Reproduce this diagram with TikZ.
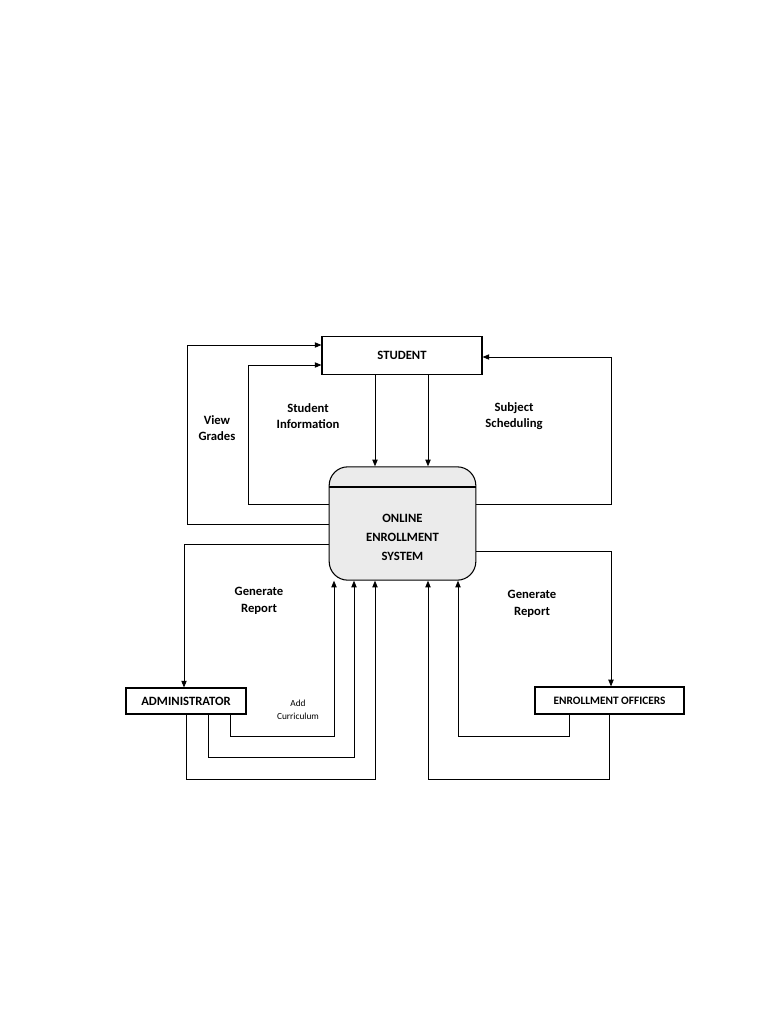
\documentclass[tikz,border=0pt]{standalone}
\usepackage{fontspec}
\setmainfont{Carlito}
\usetikzlibrary{arrows.meta}
\begin{document}
\begin{tikzpicture}[x=0.75pt,y=-0.75pt]
  \tikzstyle{arrow} = [semithick,-{Triangle[length=5pt,width=4pt]}]
  \tikzset{entity/.style = {rectangle, draw, thick, text centered, font=\bfseries\fontsize{9.5}{12}\selectfont, inner sep=0pt}, }
  \tikzset{process/.style = {rectangle, rounded corners=14, draw, thick, fill=black!8}, }
  \tikzset{flow/.style = {align=center, font=\bfseries\fontsize{9.5}{12.5}\selectfont} }
  \useasboundingbox (0,0) rectangle (768,1024);
  \node[entity, minimum width=120pt, minimum height=28pt] (S) at (402,355.5) {STUDENT};
  \node[process, minimum width=110pt, minimum height=85pt] (OES) at (402.5,523.5) {};
  \node[align=center, font=\bfseries\fontsize{9.5}{14}\selectfont] (OESlabel) at (402.5,537.5) {ONLINE\\ENROLLMENT\\SYSTEM};
  \draw[thick] (329,487) -- (476,487);
  \node[entity, minimum width=90pt, minimum height=19.5pt] (A) at (186,701) {ADMINISTRATOR};
  \node[entity, very thick, minimum width=112pt, minimum height=20pt, font=\bfseries\fontsize{8.5}{10}\selectfont] (EO) at (609.5,700.5) {ENROLLMENT OFFICERS};

  \node[flow] (vg) at (217,428) {View\\Grades};
  \node[flow] (si) at (308,416) {Student\\Information};
  \node[flow] (ss) at (514,416) {Subject\\Scheduling};
  \node[flow] (gr1) at (259,601) {Generate\\Report};
  \node[flow] (gr2) at (532,604) {Generate\\Report};
  \node[align=center, font=\fontsize{7}{10}\selectfont] (ac) at (298,710) {Add\\Curriculum};

  % student flows
  \draw[arrow] (OES.west |- 0,524) -| (187,345) -- (S.west |- 0,345);
  \draw[arrow] (OES.west |- 0,504) -| (248,365) -- (S.west |- 0,365);
  \draw[arrow] (S.south -| 375,0) -- (OES.north -| 375,0);
  \draw[arrow] (S.south -| 428,0) -- (OES.north -| 428,0);
  \draw[arrow] (OES.east |- 0,504) -| (611,357) -- (S.east |- 0,357);

  % reports
  \draw[arrow] (OES.west |- 0,544) -| (A.north -| 184,0);
  \draw[arrow] (OES.east |- 0,551) -| (EO.north -| 611,0);

  % administrator
  \draw[arrow] (A.south -| 230,0) |- (334,736) -- (OES.south -| 334,0);
  \draw[arrow] (A.south -| 208,0) |- (354,757) -- (OES.south -| 354,0);
  \draw[arrow] (A.south -| 186,0) |- (375,779) -- (OES.south -| 375,0);

  % enrollment officers
  \draw[arrow] (EO.south -| 569,0) |- (458,736) -- (OES.south -| 458,0);
  \draw[arrow] (EO.south -| 609,0) |- (428,779) -- (OES.south -| 428,0);
\end{tikzpicture}
\end{document}
